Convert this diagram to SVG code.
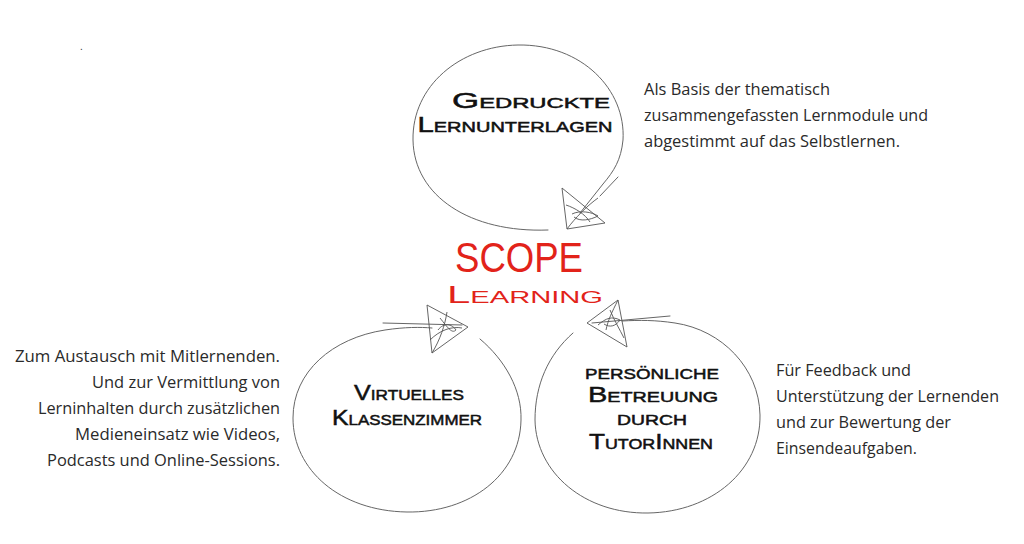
<svg xmlns="http://www.w3.org/2000/svg" width="1024" height="544" viewBox="0 0 1024 544">
<style>
.ring{fill:none;stroke:#666;stroke-width:1;stroke-linecap:round;stroke-linejoin:round}
.head{fill:none;stroke:#555;stroke-width:0.9;stroke-linejoin:round}
.lbl{font-family:"Liberation Sans",Arial,sans-serif;font-variant:small-caps;fill:#111;stroke:#111;stroke-width:0.5;font-size:22px;text-anchor:middle}
.desc{font-family:"Open Sans","Liberation Sans",sans-serif;fill:#2a2a2a;font-size:17px}
.title{font-family:"Liberation Sans",Arial,sans-serif;fill:#e2231a;text-anchor:middle}
</style>
<rect width="1024" height="544" fill="#fff"/>
<text x="80" y="50" font-family="Liberation Sans, sans-serif" font-size="10" fill="#333">.</text>

<g id="connectors">
  <path class="ring" d="M548 230 C470 233 414 196 413 140 C412 86 460 46 518 45 C582 44 626 90 623 140 C621 160 614 171 603 184 L580 213"/>
  <path class="ring" d="M618 177 L600 196"/>
  <path class="ring" d="M480 339 C505 360 522 390 521 420 C520 475 470 513 407 512 C340 511 293 470 293 418 C293 372 332 338 385 330 C405 327 420 327 432 328"/>
  <path class="ring" d="M383 323 L462 325"/>
  <path class="ring" d="M573 333 C548 355 535 385 535 420 C536 473 585 514 648 513 C712 512 761 470 760 415 C759 368 722 330 675 323 C655 320 640 320 622 321"/>
  <path class="ring" d="M670 316 L592 323"/>
</g>

<g id="arrowheads">
  <g id="arrow-top">
    <path class="head" d="M562 188 L567 229 L605 223 Z"/>
    <path class="head" d="M567 229 C575 218 588 205 598 198 M572 214 C580 210 592 212 598 216 C590 220 580 222 574 217 M566 205 C575 208 585 214 590 222"/>
  </g>
  <g id="arrow-left">
    <path class="head" d="M427 305 L468 327 L432 353 Z"/>
    <path class="head" d="M432 353 C440 340 445 325 447 312 M440 318 C448 328 452 334 456 330 C452 324 444 322 438 330 M430 340 C440 330 452 326 462 328"/>
  </g>
  <g id="arrow-right">
    <path class="head" d="M587 323 L618 300 L627 347 Z"/>
    <path class="head" d="M618 300 C612 312 608 320 606 330 M598 325 C606 318 612 316 620 320 C616 326 610 328 604 324 M610 310 C614 320 620 330 624 338"/>
  </g>
</g>

<g id="center">
  <text class="title" x="519" y="272" font-size="42" textLength="128" lengthAdjust="spacingAndGlyphs">SCOPE</text>
  <text class="title" x="525" y="303" font-size="23" font-variant="small-caps" textLength="156" lengthAdjust="spacingAndGlyphs">Learning</text>
</g>

<g id="node-top">
  <text class="lbl" x="531" y="108" textLength="158" lengthAdjust="spacingAndGlyphs">Gedruckte</text>
  <text class="lbl" x="515" y="132" textLength="195" lengthAdjust="spacingAndGlyphs">Lernunterlagen</text>
  <text class="desc" x="644" y="95" textLength="186" lengthAdjust="spacingAndGlyphs">Als Basis der thematisch</text>
  <text class="desc" x="644" y="121" textLength="284" lengthAdjust="spacingAndGlyphs">zusammengefassten Lernmodule und</text>
  <text class="desc" x="644" y="147" textLength="256" lengthAdjust="spacingAndGlyphs">abgestimmt auf das Selbstlernen.</text>
</g>

<g id="node-left">
  <text class="lbl" x="409" y="400" textLength="110" lengthAdjust="spacingAndGlyphs">Virtuelles</text>
  <text class="lbl" x="407" y="425" textLength="150" lengthAdjust="spacingAndGlyphs">Klassenzimmer</text>
  <g text-anchor="end">
    <text class="desc" x="280" y="362" textLength="265" lengthAdjust="spacingAndGlyphs">Zum Austausch mit Mitlernenden.</text>
    <text class="desc" x="280" y="388" textLength="188" lengthAdjust="spacingAndGlyphs">Und zur Vermittlung von</text>
    <text class="desc" x="280" y="414" textLength="242" lengthAdjust="spacingAndGlyphs">Lerninhalten durch zusätzlichen</text>
    <text class="desc" x="280" y="440" textLength="205" lengthAdjust="spacingAndGlyphs">Medieneinsatz wie Videos,</text>
    <text class="desc" x="280" y="466" textLength="233" lengthAdjust="spacingAndGlyphs">Podcasts und Online-Sessions.</text>
  </g>
</g>

<g id="node-right">
  <text class="lbl" x="652" y="379" textLength="134" lengthAdjust="spacingAndGlyphs">persönliche</text>
  <text class="lbl" x="653" y="402" textLength="130" lengthAdjust="spacingAndGlyphs">Betreuung</text>
  <text class="lbl" x="652" y="425" textLength="70" lengthAdjust="spacingAndGlyphs">durch</text>
  <text class="lbl" x="651" y="449" textLength="124" lengthAdjust="spacingAndGlyphs">TutorInnen</text>
  <text class="desc" x="776" y="376" textLength="135" lengthAdjust="spacingAndGlyphs">Für Feedback und</text>
  <text class="desc" x="776" y="402" textLength="223" lengthAdjust="spacingAndGlyphs">Unterstützung der Lernenden</text>
  <text class="desc" x="776" y="428" textLength="175" lengthAdjust="spacingAndGlyphs">und zur Bewertung der</text>
  <text class="desc" x="776" y="454" textLength="141" lengthAdjust="spacingAndGlyphs">Einsendeaufgaben.</text>
</g>
</svg>
